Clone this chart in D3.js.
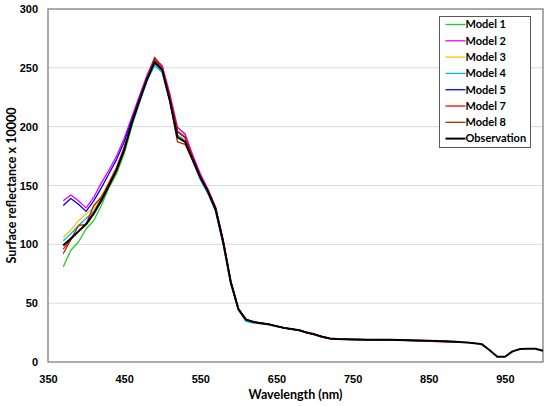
<!DOCTYPE html>
<html>
<head>
<meta charset="utf-8">
<script src="https://cdn.jsdelivr.net/npm/d3@7"></script>
<style>
  body { margin: 0; background: #fff; }
  svg { font-family: Lato, "Open Sans", sans-serif; }
  .tick-label { font-size: 11px; font-weight: bold; fill: #000; }
  .axis-title { font-size: 12.5px; font-weight: bold; fill: #000; }
  .legend-text { font-size: 11px; font-weight: bold; fill: #000; }
</style>
</head>
<body>
<svg></svg>
<script>
const width = 550;
const height = 406;
const margin = { top: 9, right: 7, bottom: 44, left: 48 };

const svg = d3.select("svg").attr("width", width).attr("height", height);

// datos: longitudes de onda
const wlModel = d3.range(370, 891, 10);
const wlObs = d3.range(370, 1001, 10);

const model1 = [81, 95, 102, 113, 120, 133, 148, 160, 177, 200, 220, 240, 256, 250, 226, 200, 193, 174, 158, 146,
  131, 103, 68, 45, 36, 34, 33, 32, 30.5, 29, 28, 27, 25, 23.5, 21.5, 20, 19.5, 19.3, 19.2, 19.1,
  19, 19, 19, 18.9, 18.7, 18.5, 18.3, 18.2, 18, 17.8, 17.6, 17.4, 17.1];
const model2 = [137, 142, 137, 131, 140, 152, 163, 175, 190, 208, 226, 244, 258, 252, 228, 199, 194, 176, 160, 147,
  132, 104, 69, 45.5, 36, 34, 33, 32, 30.5, 29, 28, 27, 25, 23.5, 21.5, 20, 19.5, 19.3, 19.2, 19.1,
  19, 19, 19, 18.9, 18.7, 18.5, 18.3, 18.2, 18, 17.8, 17.6, 17.4, 17.1];
const model3 = [106, 112, 120, 126, 131, 141, 153, 166, 183, 204, 223, 242, 256, 249, 224, 195, 190, 173, 157, 145,
  130, 102, 68, 45, 36, 34, 33, 32, 30.5, 29, 28, 27, 25, 23.3, 21.5, 20, 19.6, 19.4, 19.3, 19.2,
  19.1, 19.1, 19.1, 19, 18.9, 18.7, 18.5, 18.4, 18.2, 18, 17.8, 17.5, 17.2];
const model4 = [103, 109, 116, 122, 128, 138, 150, 163, 180, 202, 221, 239, 252, 246, 222, 193, 188, 171, 155, 143,
  128, 100, 66, 44, 34.5, 33, 32.5, 31.5, 30, 28.8, 27.8, 26.8, 24.8, 23.3, 21.3, 19.8, 19.3, 19.2, 19.1, 19,
  19, 18.9, 18.9, 18.8, 18.6, 18.4, 18.2, 18.1, 17.9, 17.7, 17.5, 17.3, 17];
const model5 = [133, 139, 134, 128, 137, 148, 160, 172, 187, 206, 224, 242, 254, 249, 225, 196, 191, 174, 158, 146,
  131, 103, 68, 45, 36, 34, 33, 32, 30.5, 29, 28, 27, 25, 23.5, 21.5, 20, 19.5, 19.3, 19.2, 19.1,
  19, 19, 19, 18.9, 18.7, 18.5, 18.3, 18.2, 18, 17.8, 17.6, 17.4, 17.1];
const model7 = [96, 104, 111, 118, 127, 139, 152, 165, 182, 204, 223, 241, 257, 250, 225, 196, 191, 174, 158, 146,
  131, 103, 68, 45, 36, 34, 33, 32, 30.3, 28.8, 27.8, 26.8, 24.7, 23, 21.2, 19.8, 19.3, 19.2, 19.1, 19,
  18.9, 18.9, 18.9, 18.8, 18.6, 18.4, 18.1, 18, 17.7, 17.4, 17.2, 17, 16.8];
const model8 = [92, 104, 116, 117, 133, 140, 151, 164, 181, 203, 222, 241, 259, 250, 222, 187, 185, 171, 156, 144,
  129, 101, 67, 45, 36, 34, 33, 32, 30.5, 29, 28, 27, 25, 23.5, 21.5, 20, 19.5, 19.3, 19.2, 19.1,
  19, 19, 19, 18.9, 18.7, 18.5, 18.3, 18.2, 18, 17.8, 17.6, 17.4, 17.1];
const observation = [99, 105, 111, 117, 126, 137, 150, 163, 180, 203, 222, 240, 255, 248, 222, 191, 187, 172, 157, 145,
  130, 102, 68, 45, 36, 34, 33, 32, 30.5, 29, 28, 27, 25, 23.5, 21.5, 20, 19.5, 19.3, 19.2, 19.1,
  19, 19, 19, 18.9, 18.7, 18.5, 18.3, 18.2, 18, 17.8, 17.6, 17.4, 17.1, 16.6, 16, 15, 10, 4.5, 4.5, 9,
  11, 11.2, 11.3, 9.5];

const xTicks = [350, 450, 550, 650, 750, 850, 950];
const yTicks = [0, 50, 100, 150, 200, 250, 300];

const series = [
  { name: "Model 1", wl: wlModel, values: model1, color: "#22CC22", w: 1.3 },
  { name: "Model 2", wl: wlModel, values: model2, color: "#EE00EE", w: 1.3 },
  { name: "Model 3", wl: wlModel, values: model3, color: "#FFC000", w: 1.3 },
  { name: "Model 4", wl: wlModel, values: model4, color: "#00B0F0", w: 1.3 },
  { name: "Model 5", wl: wlModel, values: model5, color: "#0000FF", w: 1.3 },
  { name: "Model 7", wl: wlModel, values: model7, color: "#FF0000", w: 1.3 },
  { name: "Model 8", wl: wlModel, values: model8, color: "#993300", w: 1.3 },
  { name: "Observation", wl: wlObs, values: observation, color: "#000000", w: 2 }
];

// escalas
const x = d3.scaleLinear()
  .domain([350, 1000])
  .range([margin.left, width - margin.right]);

const y = d3.scaleLinear()
  .domain([0, 300])
  .range([height - margin.bottom, margin.top]);

// rejilla
svg.append("g")
  .selectAll("line")
  .data(yTicks.filter(d => d > 0 && d < 300))
  .join("line")
  .attr("x1", margin.left)
  .attr("x2", width - margin.right)
  .attr("y1", d => y(d))
  .attr("y2", d => y(d))
  .attr("stroke", "#D9D9D9")
  .attr("stroke-width", 1);

// marco
svg.append("rect")
  .attr("x", margin.left)
  .attr("y", margin.top)
  .attr("width", width - margin.left - margin.right)
  .attr("height", height - margin.top - margin.bottom)
  .attr("fill", "none")
  .attr("stroke", "#7F7F7F")
  .attr("stroke-width", 1.3);

// ejeX
svg.append("g")
  .attr("transform", `translate(0,${height - margin.bottom})`)
  .call(d3.axisBottom(x).tickValues(xTicks).tickSize(0).tickPadding(13))
  .call(g => g.select(".domain").remove())
  .selectAll("text")
  .attr("class", "tick-label");

// ejeY
svg.append("g")
  .attr("transform", `translate(${margin.left},0)`)
  .call(d3.axisLeft(y).tickValues(yTicks).tickSize(0).tickPadding(10))
  .call(g => g.select(".domain").remove())
  .selectAll("text")
  .attr("class", "tick-label");

// lineas
const line = d3.line()
  .x(d => x(d[0]))
  .y(d => y(d[1]));

svg.append("g")
  .selectAll("path")
  .data(series)
  .join("path")
  .attr("d", s => line(s.wl.map((w, i) => [w, s.values[i]])))
  .attr("fill", "none")
  .attr("stroke", s => s.color)
  .attr("stroke-width", s => s.w)
  .attr("stroke-linejoin", "round");

// etiqueta x
svg.append("text")
  .attr("x", (margin.left + width - margin.right) / 2)
  .attr("y", height - 7)
  .attr("text-anchor", "middle")
  .attr("class", "axis-title")
  .text("Wavelength (nm)");

// etiqueta y
svg.append("text")
  .attr("transform", "rotate(-90)")
  .attr("x", -(margin.top + height - margin.bottom) / 2)
  .attr("y", 16)
  .attr("text-anchor", "middle")
  .attr("class", "axis-title")
  .text("Surface reflectance x 10000");

// leyenda
const legend = svg.append("g").attr("transform", "translate(439.5,16.5)");
legend.append("rect")
  .attr("width", 91)
  .attr("height", 131)
  .attr("fill", "#fff")
  .attr("stroke", "#595959")
  .attr("stroke-width", 1);

const item = legend.selectAll("g.item")
  .data(series)
  .join("g")
  .attr("class", "item")
  .attr("transform", (d, i) => `translate(0,${8 + i * 16.3})`);

item.append("line")
  .attr("x1", 6)
  .attr("x2", 26)
  .attr("stroke", d => d.color)
  .attr("stroke-width", d => d.w);

item.append("text")
  .attr("x", 26)
  .attr("y", 0)
  .attr("dy", "0.35em")
  .attr("class", "legend-text")
  .text(d => d.name);
</script>
</body>
</html>
